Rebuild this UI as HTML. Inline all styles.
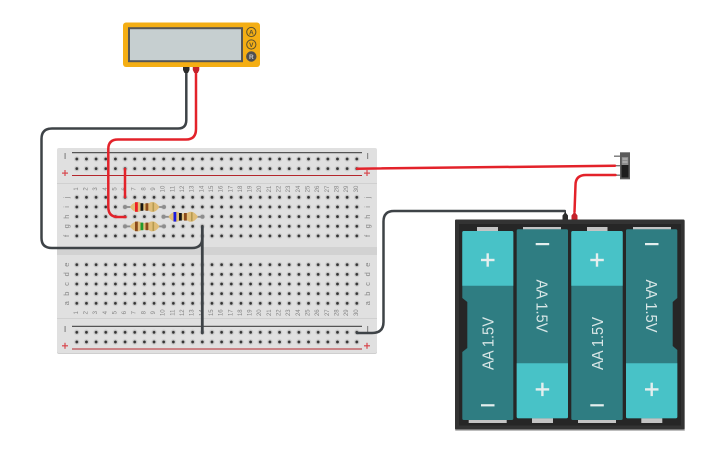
<!DOCTYPE html>
<html><head><meta charset="utf-8"><style>
html,body{margin:0;padding:0;background:#fff;width:725px;height:453px;overflow:hidden}
svg{display:block}
.n text,.l text{font-family:"Liberation Sans",sans-serif;fill:#858585;text-anchor:middle;dominant-baseline:central}
.n text{font-size:6px}.l text{font-size:7.5px}
.w{fill:none;stroke-linecap:round;stroke-linejoin:round}
</style></head><body>
<svg width="725" height="453" viewBox="0 0 725 453" xmlns="http://www.w3.org/2000/svg">
<defs>
<pattern id="h" patternUnits="userSpaceOnUse" x="71.97" y="-4.83" width="9.655" height="9.655">
<circle cx="4.83" cy="4.83" r="2.8" fill="#cdcdcd"/><circle cx="4.83" cy="4.83" r="1.4" fill="#333"/>
</pattern>
</defs>
<!-- Breadboard -->
<rect x="57" y="149" width="320" height="205" rx="2" fill="#cfcfcf"/>
<rect x="57" y="148" width="320" height="205" rx="2" fill="#e0e0e0"/>
<rect x="57" y="247" width="320" height="8" fill="#d2d2d2"/>
<rect x="57" y="183" width="320" height="1" fill="#d0d0d0"/>
<rect x="57" y="318" width="320" height="1" fill="#d0d0d0"/>
<rect x="72" y="152.2" width="290" height="1" fill="#333"/>
<rect x="72" y="175" width="290" height="1" fill="#b3262c"/>
<rect x="72" y="325.8" width="290" height="1" fill="#333"/>
<rect x="72" y="348.5" width="290" height="1" fill="#b3262c"/>
<g fill="url(#h)">
<g transform="translate(0,159)"><rect x="72" y="-4.83" width="289.65" height="19.31"/></g>
<g transform="translate(0,197.3)"><rect x="72" y="-4.83" width="289.65" height="48.28"/></g>
<g transform="translate(0,264.7)"><rect x="72" y="-4.83" width="289.65" height="48.28"/></g>
<g transform="translate(0,332.3)"><rect x="72" y="-4.83" width="289.65" height="19.31"/></g>
</g>
<!-- rail signs -->
<g fill="#8a8a8a"><rect x="64.5" y="153" width="1.2" height="6"/><rect x="367" y="153" width="1.2" height="6"/><rect x="64.5" y="326" width="1.2" height="6"/><rect x="367" y="326" width="1.2" height="6"/></g>
<g fill="#d8474d">
<rect x="62" y="172.5" width="6" height="1.2"/><rect x="64.4" y="170" width="1.2" height="6"/>
<rect x="364" y="172.5" width="6" height="1.2"/><rect x="366.4" y="170" width="1.2" height="6"/>
<rect x="62" y="345.2" width="6" height="1.2"/><rect x="64.4" y="342.8" width="1.2" height="6"/>
<rect x="364" y="345.2" width="6" height="1.2"/><rect x="366.4" y="342.8" width="1.2" height="6"/>
</g>
<!-- letters -->
<g class="l">
<text transform="translate(66.7,197.3) rotate(-90)">j</text><text transform="translate(66.7,206.9) rotate(-90)">i</text><text transform="translate(66.7,216.7) rotate(-90)">h</text><text transform="translate(66.7,226.3) rotate(-90)">g</text><text transform="translate(66.7,236) rotate(-90)">f</text>
<text transform="translate(367.6,197.3) rotate(-90)">j</text><text transform="translate(367.6,206.9) rotate(-90)">i</text><text transform="translate(367.6,216.7) rotate(-90)">h</text><text transform="translate(367.6,226.3) rotate(-90)">g</text><text transform="translate(367.6,236) rotate(-90)">f</text>
<text transform="translate(66.7,264.7) rotate(-90)">e</text><text transform="translate(66.7,274.3) rotate(-90)">d</text><text transform="translate(66.7,284) rotate(-90)">c</text><text transform="translate(66.7,293.7) rotate(-90)">b</text><text transform="translate(66.7,303.3) rotate(-90)">a</text>
<text transform="translate(367.6,264.7) rotate(-90)">e</text><text transform="translate(367.6,274.3) rotate(-90)">d</text><text transform="translate(367.6,284) rotate(-90)">c</text><text transform="translate(367.6,293.7) rotate(-90)">b</text><text transform="translate(367.6,303.3) rotate(-90)">a</text>
</g>
<!-- numbers -->
<g class="n">
<text transform="translate(76.8,189) rotate(-90)">1</text><text transform="translate(86.5,189) rotate(-90)">2</text><text transform="translate(96.1,189) rotate(-90)">3</text><text transform="translate(105.8,189) rotate(-90)">4</text><text transform="translate(115.4,189) rotate(-90)">5</text><text transform="translate(125.1,189) rotate(-90)">6</text><text transform="translate(134.7,189) rotate(-90)">7</text><text transform="translate(144.4,189) rotate(-90)">8</text><text transform="translate(154,189) rotate(-90)">9</text><text transform="translate(163.7,189) rotate(-90)">10</text><text transform="translate(173.4,189) rotate(-90)">11</text><text transform="translate(183,189) rotate(-90)">12</text><text transform="translate(192.7,189) rotate(-90)">13</text><text transform="translate(202.3,189) rotate(-90)">14</text><text transform="translate(212,189) rotate(-90)">15</text><text transform="translate(221.6,189) rotate(-90)">16</text><text transform="translate(231.3,189) rotate(-90)">17</text><text transform="translate(240.9,189) rotate(-90)">18</text><text transform="translate(250.6,189) rotate(-90)">19</text><text transform="translate(260.2,189) rotate(-90)">20</text><text transform="translate(269.9,189) rotate(-90)">21</text><text transform="translate(279.6,189) rotate(-90)">22</text><text transform="translate(289.2,189) rotate(-90)">23</text><text transform="translate(298.9,189) rotate(-90)">24</text><text transform="translate(308.5,189) rotate(-90)">25</text><text transform="translate(318.2,189) rotate(-90)">26</text><text transform="translate(327.8,189) rotate(-90)">27</text><text transform="translate(337.5,189) rotate(-90)">28</text><text transform="translate(347.1,189) rotate(-90)">29</text><text transform="translate(356.8,189) rotate(-90)">30</text>
<text transform="translate(76.8,312.7) rotate(-90)">1</text><text transform="translate(86.5,312.7) rotate(-90)">2</text><text transform="translate(96.1,312.7) rotate(-90)">3</text><text transform="translate(105.8,312.7) rotate(-90)">4</text><text transform="translate(115.4,312.7) rotate(-90)">5</text><text transform="translate(125.1,312.7) rotate(-90)">6</text><text transform="translate(134.7,312.7) rotate(-90)">7</text><text transform="translate(144.4,312.7) rotate(-90)">8</text><text transform="translate(154,312.7) rotate(-90)">9</text><text transform="translate(163.7,312.7) rotate(-90)">10</text><text transform="translate(173.4,312.7) rotate(-90)">11</text><text transform="translate(183,312.7) rotate(-90)">12</text><text transform="translate(192.7,312.7) rotate(-90)">13</text><text transform="translate(202.3,312.7) rotate(-90)">14</text><text transform="translate(212,312.7) rotate(-90)">15</text><text transform="translate(221.6,312.7) rotate(-90)">16</text><text transform="translate(231.3,312.7) rotate(-90)">17</text><text transform="translate(240.9,312.7) rotate(-90)">18</text><text transform="translate(250.6,312.7) rotate(-90)">19</text><text transform="translate(260.2,312.7) rotate(-90)">20</text><text transform="translate(269.9,312.7) rotate(-90)">21</text><text transform="translate(279.6,312.7) rotate(-90)">22</text><text transform="translate(289.2,312.7) rotate(-90)">23</text><text transform="translate(298.9,312.7) rotate(-90)">24</text><text transform="translate(308.5,312.7) rotate(-90)">25</text><text transform="translate(318.2,312.7) rotate(-90)">26</text><text transform="translate(327.8,312.7) rotate(-90)">27</text><text transform="translate(337.5,312.7) rotate(-90)">28</text><text transform="translate(347.1,312.7) rotate(-90)">29</text><text transform="translate(356.8,312.7) rotate(-90)">30</text>
</g>
<!-- Resistors -->
<g transform="translate(125,207)">
<rect x="0" y="-0.9" width="39" height="1.8" fill="#8d8d8d"/><circle cx="0" cy="0" r="2" fill="#8d8d8d"/><circle cx="39" cy="0" r="2" fill="#8d8d8d"/>
<path d="M5 0C7-3.500 10-5 13-5C15-5 16-3.300 18-3.300H22C24-3.300 25-5 27-5C30-5 32-3.500 34.500 0C32 3.500 30 5 27 5C25 5 24 3.300 22 3.300H18C16 3.300 15 5 13 5C10 5 7 3.500 5 0Z" fill="#e0bd78"/>
<rect x="10" y="-4.800" width="2.800" height="9.600" fill="#ee1c25"/><rect x="15.500" y="-3.800" width="2.800" height="7.600" fill="#151515"/><rect x="20.500" y="-3.800" width="2.800" height="7.600" fill="#8a4a1c"/><rect x="27.500" y="-4.500" width="1.600" height="9" fill="#b59a50"/>
</g>
<g transform="translate(125,226.400)">
<rect x="0" y="-0.9" width="39" height="1.8" fill="#8d8d8d"/><circle cx="0" cy="0" r="2" fill="#8d8d8d"/><circle cx="39" cy="0" r="2" fill="#8d8d8d"/>
<path d="M5 0C7-3.500 10-5 13-5C15-5 16-3.300 18-3.300H22C24-3.300 25-5 27-5C30-5 32-3.500 34.500 0C32 3.500 30 5 27 5C25 5 24 3.300 22 3.300H18C16 3.300 15 5 13 5C10 5 7 3.500 5 0Z" fill="#e0bd78"/>
<rect x="10" y="-4.800" width="2.800" height="9.600" fill="#8a4a1c"/><rect x="15.500" y="-3.800" width="2.800" height="7.600" fill="#1f9a2e"/><rect x="20.500" y="-3.800" width="2.800" height="7.600" fill="#8a4a1c"/><rect x="27.500" y="-4.500" width="1.600" height="9" fill="#b59a50"/>
</g>
<g transform="translate(163.500,216.800)">
<rect x="0" y="-0.9" width="39" height="1.8" fill="#8d8d8d"/><circle cx="0" cy="0" r="2" fill="#8d8d8d"/><circle cx="39" cy="0" r="2" fill="#8d8d8d"/>
<path d="M5 0C7-3.500 10-5 13-5C15-5 16-3.300 18-3.300H22C24-3.300 25-5 27-5C30-5 32-3.500 34.500 0C32 3.500 30 5 27 5C25 5 24 3.300 22 3.300H18C16 3.300 15 5 13 5C10 5 7 3.500 5 0Z" fill="#e0bd78"/>
<rect x="10" y="-4.800" width="2.800" height="9.600" fill="#1a1ae0"/><rect x="15.500" y="-3.800" width="2.800" height="7.600" fill="#151515"/><rect x="20.500" y="-3.800" width="2.800" height="7.600" fill="#8a4a1c"/><rect x="27.500" y="-4.500" width="1.600" height="9" fill="#b59a50"/>
</g>
<!-- Multimeter -->
<rect x="123" y="22.500" width="137" height="44.500" rx="3" fill="#f4ae14"/>
<rect x="129" y="28.200" width="113" height="33" fill="#c6cfd0" stroke="#555" stroke-width="2"/>
<g font-family="Liberation Sans,sans-serif" font-size="6.500" text-anchor="middle" font-weight="bold">
<circle cx="251.300" cy="32" r="4.600" fill="#f4ae14" stroke="#5a5030" stroke-width="1"/><text x="251.300" y="34.300" fill="#5a5030">A</text>
<circle cx="251.300" cy="44.500" r="4.600" fill="#f4ae14" stroke="#5a5030" stroke-width="1"/><text x="251.300" y="46.800" fill="#5a5030">V</text>
<circle cx="251.300" cy="56.500" r="5.200" fill="#4f4f4f"/><text x="251.300" y="58.800" fill="#c9c9c9">R</text>
</g>
<!-- Battery holder -->
<rect x="455" y="220" width="230" height="211" rx="1" fill="#bdbdbd"/>
<rect x="455" y="219.500" width="229.500" height="210" rx="1" fill="#333"/>
<rect x="459" y="224" width="222" height="201.500" fill="#262626"/>
<g fill="#c4c4c4">
<rect x="477" y="227" width="21" height="5"/><rect x="523" y="227" width="38" height="4"/><rect x="587" y="227" width="20.500" height="5"/><rect x="633" y="227" width="38" height="4"/>
<rect x="468.700" y="419" width="38" height="4"/><rect x="532" y="417" width="21" height="6"/><rect x="578" y="419" width="38" height="4"/><rect x="641.300" y="417" width="21" height="6"/>
</g>
<path d="M462.300 232.500a1.500 1.500 0 0 1 1.500-1.500h48a1.500 1.500 0 0 1 1.500 1.500V418.500a1.500 1.500 0 0 1-1.500 1.500h-48a1.500 1.500 0 0 1-1.500-1.500V352l5-4V302l-5-4Z" fill="#2f7d82"/>
<path d="M462.300 232.500a1.500 1.500 0 0 1 1.500-1.500h48a1.500 1.500 0 0 1 1.500 1.500V285.700h-51Z" fill="#48c2c7"/>
<rect x="516.700" y="229.300" width="51.300" height="189" rx="1.500" fill="#2f7d82"/>
<path d="M516.700 363.300h51.300v53.500a1.500 1.500 0 0 1-1.500 1.500h-48.300a1.500 1.500 0 0 1-1.500-1.500Z" fill="#48c2c7"/>
<rect x="571.300" y="231" width="51.400" height="189" rx="1.500" fill="#2f7d82"/>
<path d="M571.300 232.500a1.500 1.500 0 0 1 1.500-1.500h48.400a1.500 1.500 0 0 1 1.500 1.500V285.700h-51.400Z" fill="#48c2c7"/>
<path d="M626 230.800a1.500 1.500 0 0 1 1.500-1.500h48.300a1.500 1.500 0 0 1 1.500 1.500V298l-4.600 4V346l4.600 4V416.800a1.500 1.500 0 0 1-1.500 1.500h-48.300a1.500 1.500 0 0 1-1.500-1.500Z" fill="#2f7d82"/>
<path d="M626 363.300h51.300v53.500a1.500 1.500 0 0 1-1.500 1.500h-48.300a1.500 1.500 0 0 1-1.500-1.500Z" fill="#48c2c7"/>
<g fill="#e4eeee">
<rect x="481" y="258.800" width="13.500" height="2.400"/><rect x="486.500" y="253.300" width="2.400" height="13.400"/>
<rect x="481" y="404.200" width="13.500" height="2.200"/>
<rect x="535.700" y="243" width="13.500" height="2.200"/>
<rect x="535.700" y="388.200" width="13.500" height="2.400"/><rect x="541.200" y="382.700" width="2.400" height="13.400"/>
<rect x="590.300" y="258.800" width="13.500" height="2.400"/><rect x="595.800" y="253.300" width="2.400" height="13.400"/>
<rect x="590.300" y="404.200" width="13.500" height="2.200"/>
<rect x="645" y="243" width="13.500" height="2.200"/>
<rect x="645" y="388.200" width="13.500" height="2.400"/><rect x="650.500" y="382.700" width="2.400" height="13.400"/>
</g>
<g font-family="Liberation Sans,sans-serif" font-size="16" fill="#d8e6e6" text-anchor="middle">
<text transform="translate(493.500,343.500) rotate(-90)" textLength="53" lengthAdjust="spacingAndGlyphs">AA 1.5V</text>
<text transform="translate(536.500,306) rotate(90)" textLength="53" lengthAdjust="spacingAndGlyphs">AA 1.5V</text>
<text transform="translate(603,343.500) rotate(-90)" textLength="53" lengthAdjust="spacingAndGlyphs">AA 1.5V</text>
<text transform="translate(646,306) rotate(90)" textLength="53" lengthAdjust="spacingAndGlyphs">AA 1.5V</text>
</g>
<!-- Switch -->
<rect x="614" y="155.500" width="6" height="1.400" fill="#777"/><rect x="614" y="165" width="6" height="1.400" fill="#777"/><rect x="614" y="174.500" width="6" height="1.400" fill="#777"/>
<rect x="620" y="152.300" width="10" height="27" fill="#5b5b5b"/>
<rect x="621.500" y="165" width="7" height="12.500" fill="#1e1e1e"/>
<rect x="621.800" y="157" width="6.400" height="8" fill="#8d8d8d"/>
<rect x="622.500" y="158.500" width="5" height="1" fill="#c4c4c4"/><rect x="622.500" y="161.500" width="5" height="1" fill="#c4c4c4"/>
<!-- Battery connectors -->
<path d="M562.500 219.500v-4l2-2.500v-1.500h1.500v1.500l2 2.500v4Z" fill="#2b2b2b"/>
<path d="M571.500 219.500v-4l2-2.500v-1.500h2v1.500l2 2.500v4Z" fill="#c4222a"/>
<!-- Wires -->
<g class="w" stroke="#3e4347" stroke-width="2.500">
<path d="M186.300 71V120Q186.300 128.500 178 128.500H52Q41.500 128.500 41.500 139V238Q41.500 248 52 248H192Q202.300 248 202.300 238V227"/>
<path d="M202.300 227V333" stroke-width="2.800"/>
<path d="M564.800 211H394Q383.500 211 383.500 221.500V322Q383.500 333 372 333H357"/>
</g>
<g class="w" stroke="#e3222a" stroke-width="2.500">
<path d="M196 71V129Q196 139.500 186 139.500H118Q108.300 139.500 108.300 149V207Q108.300 217 118 217H125.500"/>
<path d="M125 169V197"/>
<path d="M357 168.700L615 165.700"/>
<path d="M615.500 175H586Q575.500 175 575.500 185L574.500 212"/>
</g>
<!-- Meter probes -->
<path d="M183 67h6.500v3l-1.500 3h-3.500l-1.500-3Z" fill="#2b2b2b"/>
<path d="M192.800 67h6.500v3l-1.500 3h-3.500l-1.500-3Z" fill="#c4222a"/>
</svg>
</body></html>
